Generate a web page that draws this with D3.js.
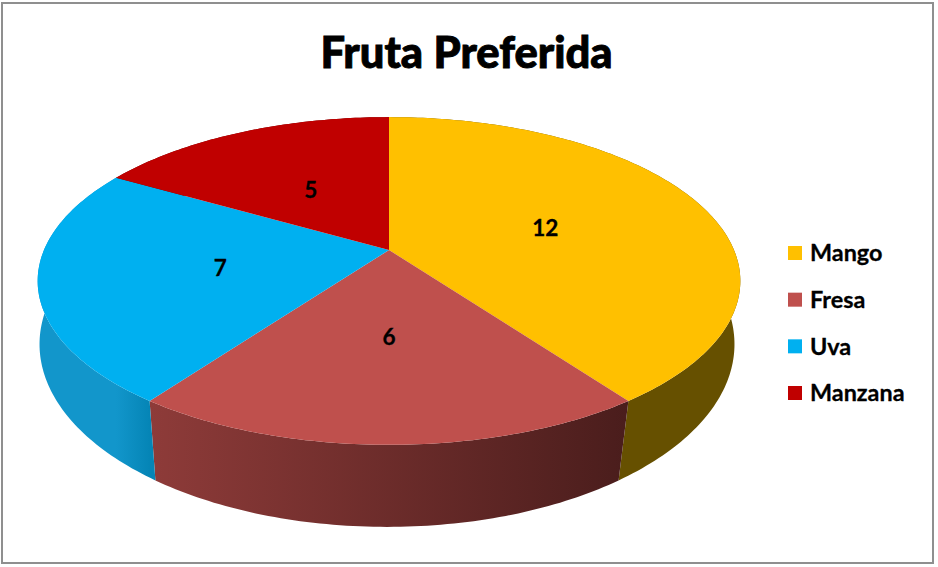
<!DOCTYPE html>
<html>
<head>
<meta charset="utf-8">
<title>Fruta Preferida</title>
<script src="https://cdn.jsdelivr.net/npm/d3@7"></script>
<style>
html, body { margin: 0; padding: 0; background: #fff; }
svg { display: block; font-family: Lato, "Open Sans", sans-serif; }
</style>
</head>
<body>
<svg id="chart" width="938" height="567"></svg>
<script>
var categories = ["Mango", "Fresa", "Uva", "Manzana"];
var values = [12, 6, 7, 5];
var topColors = ["#FFC000", "#BF504D", "#00B0F0", "#C00000"];
var sideLeft = ["#6A5300", "#8E3B39", "#1296CB", "#6A0000"];
var sideRight = ["#665000", "#4A1D1C", "#0585B6", "#6A0000"];

var svg = d3.select("#chart");

svg.append("rect")
    .attr("x", 2).attr("y", 3)
    .attr("width", 931).attr("height", 560)
    .attr("fill", "#fff")
    .attr("stroke", "#8f8f8f")
    .attr("stroke-width", 2);

svg.append("text")
    .attr("x", 466.5).attr("y", 68)
    .attr("text-anchor", "middle")
    .attr("font-size", 43.5)
    .attr("font-weight", 900)
    .attr("stroke", "#000")
    .attr("stroke-width", 0.9)
    .text("Fruta Preferida");

// pie is tilted in perspective, k moves the front toward the viewer
function project(a, r, k, cx, cy, sx, sy) {
    var u = Math.sin(a) * r,
        v = -Math.cos(a) * r,
        w = 1 + k * v;
    return [cx + sx * u / w, cy + sy * v / w];
}
function topPoint(a, r) { return project(a, r, -0.189, 389, 250, 345, 158); }
function basePoint(a) { return project(a, 1, -0.16, 387, 315, 343, 178); }

var pie = d3.pie().sort(null);
var arcs = pie(values);
var line = d3.line();

function arcAngles(d) {
    var n = Math.ceil((d.endAngle - d.startAngle) * 60);
    return d3.range(n + 1).map(function(i) {
        return d.startAngle + (d.endAngle - d.startAngle) * i / n;
    });
}

var defs = svg.append("defs");
arcs.forEach(function(d, i) {
    var a = topPoint(d.startAngle, 1)[0],
        b = topPoint(d.endAngle, 1)[0];
    var g = defs.append("linearGradient")
        .attr("id", "side" + i)
        .attr("gradientUnits", "userSpaceOnUse")
        .attr("x1", Math.min(a, b)).attr("y1", 0)
        .attr("x2", Math.max(a, b)).attr("y2", 0);
    g.append("stop").attr("offset", 0).attr("stop-color", sideLeft[i]);
    g.append("stop").attr("offset", 1).attr("stop-color", sideRight[i]);
});

// side walls first, the top faces cover the back part
svg.append("g").selectAll("path")
    .data(arcs)
    .join("path")
    .attr("d", function(d) {
        var angles = arcAngles(d);
        var pts = angles.map(function(a) { return topPoint(a, 1); })
            .concat(angles.slice().reverse().map(basePoint));
        return line(pts) + "Z";
    })
    .attr("fill", function(d, i) { return "url(#side" + i + ")"; });

svg.append("g").selectAll("path")
    .data(arcs)
    .join("path")
    .attr("d", function(d) {
        var pts = arcAngles(d).map(function(a) { return topPoint(a, 1); });
        pts.push(topPoint(0, 0));
        return line(pts) + "Z";
    })
    .attr("fill", function(d, i) { return topColors[i]; });

svg.append("g").selectAll("text")
    .data(arcs)
    .join("text")
    .attr("transform", function(d) {
        var p = topPoint((d.startAngle + d.endAngle) / 2, 0.49);
        return "translate(" + p[0] + "," + (p[1] + 1.5) + ")";
    })
    .attr("text-anchor", "middle")
    .attr("dy", "0.36em")
    .attr("font-size", 22.5)
    .attr("font-weight", 700)
    .attr("stroke", "#000")
    .attr("stroke-width", 0.3)
    .text(function(d) { return d.data; });

var legendY = d3.scalePoint().domain(categories).range([253, 393]);
var legend = svg.append("g").selectAll("g")
    .data(categories)
    .join("g")
    .attr("transform", function(d) { return "translate(788," + legendY(d) + ")"; });

legend.append("rect")
    .attr("y", -7)
    .attr("width", 14).attr("height", 14)
    .attr("fill", function(d, i) { return topColors[i]; });

legend.append("text")
    .attr("x", 22)
    .attr("dy", "0.36em")
    .attr("font-size", 23.4)
    .attr("font-weight", 700)
    .attr("stroke", "#000")
    .attr("stroke-width", 0.3)
    .text(function(d) { return d; });
</script>
</body>
</html>
